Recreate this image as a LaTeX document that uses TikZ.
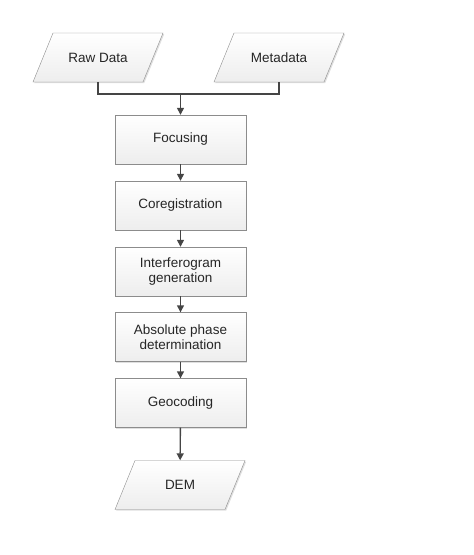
\documentclass[tikz,border=0pt]{standalone}
\usepackage{fontspec}
\setmainfont{Liberation Sans}
\usetikzlibrary{positioning}
\usetikzlibrary{arrows.meta}
\usetikzlibrary{shadows}
\definecolor{edge}{rgb}{0.55,0.55,0.55}
\definecolor{ink}{rgb}{0.27,0.27,0.27}
\tikzset{
  pics/datashape/.style args={#1,#2}{
     code={
       \path[draw=edge, shading=axis, top color=white, bottom color=gray!14,
             drop shadow={shadow xshift=1.2pt, shadow yshift=-1.2pt, opacity=0.25}]
         (-65,24.5) -- (-45,-24.5) -- (65,-24.5) -- (45,24.5) -- cycle;
       \node[minimum width=90pt, minimum height=49pt, inner sep=0pt, text=black!85] (#1) at (0,0) {#2};
     }
  }
}

\begin{document}
\begin{tikzpicture}
	    [x=1pt, y=-1pt,
	    process/.style={draw=edge, shading=axis, top color=white, bottom color=gray!14,
	        drop shadow={shadow xshift=1.2pt, shadow yshift=-1.2pt, opacity=0.25},
	        minimum width=131pt, minimum height=49pt, inner sep=2pt, align=center, text=black!85},
	    line/.style={draw=ink, line width=1.4pt},
	    arrow/.style={line, -{Triangle[length=7pt, width=7pt]}},
	    font=\fontsize{13.5}{15.5}\selectfont]
	     \useasboundingbox (0,0) rectangle (474,555);
	     \pic at (98, 57.5)  {datashape={raw, Raw Data}};
	     \pic at (279, 57.5) {datashape={meta, Metadata}};
	     \node[process] (focus) at (180.5, 139.5) {Focusing};
	     \node[process] (coreg) at (180.5, 205.5) {Coregistration};
	     \node[process] (ifg)   at (180.5, 271.5) {Interferogram\\generation};
	     \node[process] (phase) at (180.5, 337)   {Absolute phase\\determination};
	     \node[process] (geo)   at (180.5, 403)   {Geocoding};
	     \pic at (180, 485)  {datashape={dem, DEM}};
	     \coordinate (join) at (180.5, 94);
	     \draw[line] (raw.south) |- (join) -| (meta.south);
	     \draw[arrow] (join) -- (focus);
	     \draw[arrow] (focus) -- (coreg);
	     \draw[arrow] (coreg) -- (ifg);
	     \draw[arrow] (ifg) -- (phase);
	     \draw[arrow] (phase) -- (geo);
	     \draw[arrow] (geo) -- (dem);
\end{tikzpicture}
\end{document}
